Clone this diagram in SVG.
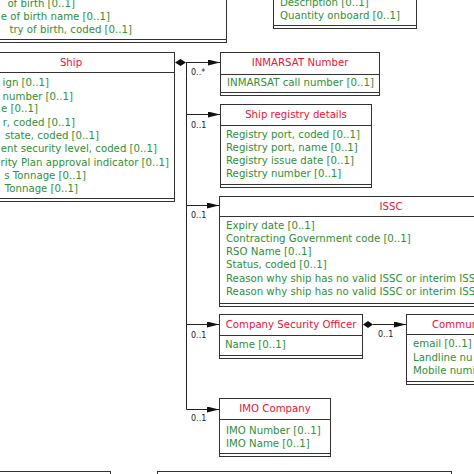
<svg xmlns="http://www.w3.org/2000/svg" width="474" height="474" viewBox="0 0 474 474">
<defs>
<style>
.box{fill:#fff;stroke:#333;stroke-width:1}
.ln{stroke:#333;stroke-width:1;fill:none}
.t{font-family:"DejaVu Sans","Liberation Sans",sans-serif;font-size:10.2px}
.h{fill:#e8143a}
.a{fill:#2f9038}
.m{font-family:"DejaVu Sans","Liberation Sans",sans-serif;font-size:8px;fill:#222}
.c{stroke:#222;stroke-width:1;fill:none}
</style>
<marker id="arr" viewBox="0 0 12 6" refX="12" refY="3" markerWidth="12" markerHeight="6" markerUnits="userSpaceOnUse" orient="auto">
<path d="M0,0 L12,3 L0,6 z" fill="#111"/>
</marker>
</defs>
<rect width="474" height="474" fill="#fff"/>

<g id="person">
<rect class="box" x="-5.5" y="-10.5" width="232" height="53"/>
<line class="ln" x1="-5" y1="39.5" x2="227" y2="39.5"/>
<text class="t a" x="75" y="7" text-anchor="end">of birth [0..1]</text>
<text class="t a" x="110" y="20" text-anchor="end">e of birth name [0..1]</text>
<text class="t a" x="132" y="33" text-anchor="end">try of birth, coded [0..1]</text>
</g>

<g id="cargo">
<rect class="box" x="273.5" y="-10.5" width="143" height="39"/>
<line class="ln" x1="273" y1="25.5" x2="417" y2="25.5"/>
<text class="t a" x="280" y="6">Description [0..1]</text>
<text class="t a" x="280" y="19">Quantity onboard [0..1]</text>
</g>

<g id="ship">
<rect class="box" x="-32.5" y="52.5" width="207" height="149"/>
<line class="ln" x1="-32" y1="72.5" x2="175" y2="72.5"/>
<line class="ln" x1="-32" y1="198.5" x2="175" y2="198.5"/>
<text class="t h" x="71" y="66" text-anchor="middle">Ship</text>
<text class="t a" x="49" y="86" text-anchor="end">ign [0..1]</text>
<text class="t a" x="73" y="100" text-anchor="end">number [0..1]</text>
<text class="t a" x="38" y="112" text-anchor="end">e [0..1]</text>
<text class="t a" x="75" y="126" text-anchor="end">r, coded [0..1]</text>
<text class="t a" x="99" y="139" text-anchor="end">state, coded [0..1]</text>
<text class="t a" x="157" y="152" text-anchor="end">ent security level, coded [0..1]</text>
<text class="t a" x="169" y="166" text-anchor="end">rity Plan approval indicator [0..1]</text>
<text class="t a" x="86" y="179" text-anchor="end">s Tonnage [0..1]</text>
<text class="t a" x="78" y="192" text-anchor="end">Tonnage [0..1]</text>
</g>

<g id="inmarsat">
<rect class="box" x="220.5" y="52.5" width="159" height="43"/>
<line class="ln" x1="220" y1="74.5" x2="380" y2="74.5"/>
<line class="ln" x1="220" y1="92.5" x2="380" y2="92.5"/>
<text class="t h" x="300" y="66" text-anchor="middle">INMARSAT Number</text>
<text class="t a" x="227" y="86">INMARSAT call number [0..1]</text>
</g>

<g id="registry">
<rect class="box" x="220.5" y="104.5" width="151" height="83"/>
<line class="ln" x1="220" y1="125.5" x2="372" y2="125.5"/>
<line class="ln" x1="220" y1="184.5" x2="372" y2="184.5"/>
<text class="t h" x="296" y="118" text-anchor="middle">Ship registry details</text>
<text class="t a" x="226" y="138">Registry port, coded [0..1]</text>
<text class="t a" x="226" y="151">Registry port, name [0..1]</text>
<text class="t a" x="226" y="164">Registry issue date [0..1]</text>
<text class="t a" x="226" y="177">Registry number [0..1]</text>
</g>

<g id="issc">
<rect class="box" x="219.5" y="196.5" width="344" height="110"/>
<line class="ln" x1="219" y1="216.5" x2="564" y2="216.5"/>
<line class="ln" x1="219" y1="303.5" x2="564" y2="303.5"/>
<text class="t h" x="391" y="210" text-anchor="middle">ISSC</text>
<text class="t a" x="226" y="229">Expiry date [0..1]</text>
<text class="t a" x="226" y="242">Contracting Government code [0..1]</text>
<text class="t a" x="226" y="255">RSO Name [0..1]</text>
<text class="t a" x="226" y="268">Status, coded [0..1]</text>
<text class="t a" x="226" y="282">Reason why ship has no valid ISSC or interim ISS</text>
<text class="t a" x="226" y="295">Reason why ship has no valid ISSC or interim ISS</text>
</g>

<g id="cso">
<rect class="box" x="219.5" y="314.5" width="143" height="44"/>
<line class="ln" x1="219" y1="335.5" x2="363" y2="335.5"/>
<line class="ln" x1="219" y1="355.5" x2="363" y2="355.5"/>
<text class="t h" x="291" y="328" text-anchor="middle">Company Security Officer</text>
<text class="t a" x="225" y="348">Name [0..1]</text>
</g>

<g id="communication">
<rect class="box" x="406.5" y="314.5" width="160" height="70"/>
<line class="ln" x1="406" y1="334.5" x2="567" y2="334.5"/>
<line class="ln" x1="406" y1="381.5" x2="567" y2="381.5"/>
<text class="t h" x="432" y="328">Commun</text>
<text class="t a" x="413" y="347">email [0..1]</text>
<text class="t a" x="413" y="361">Landline nu</text>
<text class="t a" x="413" y="374">Mobile numi</text>
</g>

<g id="imo">
<rect class="box" x="219.5" y="398.5" width="111" height="58"/>
<line class="ln" x1="219" y1="419.5" x2="331" y2="419.5"/>
<line class="ln" x1="219" y1="453.5" x2="331" y2="453.5"/>
<text class="t h" x="275" y="412" text-anchor="middle">IMO Company</text>
<text class="t a" x="226" y="434">IMO Number [0..1]</text>
<text class="t a" x="226" y="447">IMO Name [0..1]</text>
</g>

<g id="bottom-left">
<rect class="box" x="-5.5" y="471.5" width="116" height="20"/>
</g>
<g id="bottom-right">
<rect class="box" x="157.5" y="471.5" width="294" height="20"/>
</g>

<g id="connectors">
<path d="M175,62.5 L180.5,59 L186,62.5 L180.5,66 z" fill="#111"/>
<line class="c" x1="186" y1="62.5" x2="220" y2="62.5" marker-end="url(#arr)"/>
<path class="c" d="M186.5,62.5 V409.5 H219" marker-end="url(#arr)"/>
<line class="c" x1="186.5" y1="114.5" x2="220" y2="114.5" marker-end="url(#arr)"/>
<line class="c" x1="186.5" y1="205.5" x2="219" y2="205.5" marker-end="url(#arr)"/>
<line class="c" x1="186.5" y1="324.5" x2="219" y2="324.5" marker-end="url(#arr)"/>
<path d="M363,324.5 L368,321 L373,324.5 L368,328 z" fill="#111"/>
<line class="c" x1="373" y1="324.5" x2="406" y2="324.5" marker-end="url(#arr)"/>
<text class="m" x="191" y="75">0..*</text>
<text class="m" x="191" y="128">0..1</text>
<text class="m" x="191" y="218">0..1</text>
<text class="m" x="191" y="338">0..1</text>
<text class="m" x="191" y="421">0..1</text>
<text class="m" x="378" y="337">0..1</text>
</g>
</svg>
